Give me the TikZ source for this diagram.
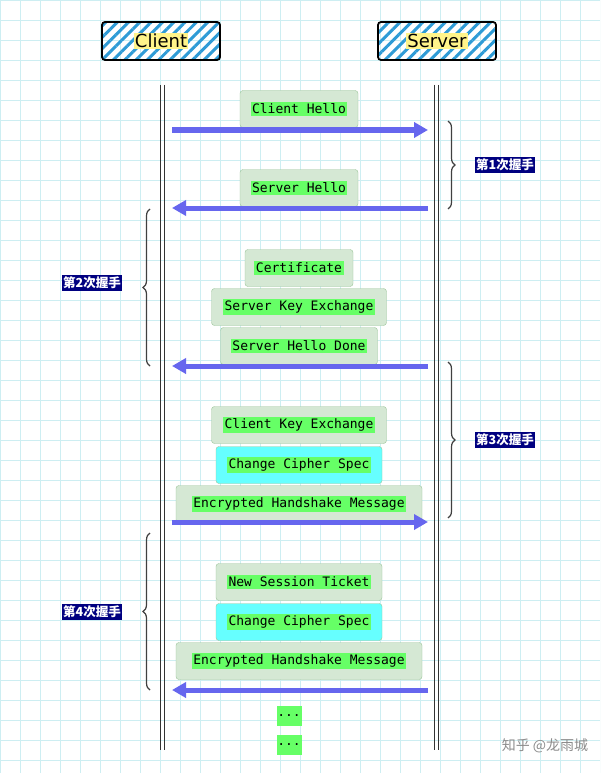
\documentclass[tikz,border=0pt]{standalone}
\usepackage{fontspec}
\setmainfont{DejaVu Sans}
\newfontfamily\cjk{Noto Sans CJK SC}
\newfontfamily\mono{DejaVu Sans Mono}
\usetikzlibrary{arrows.meta,decorations.pathreplacing,patterns,patterns.meta}
\definecolor{gridc}{HTML}{CDEEF2}
\definecolor{boxbg}{HTML}{D5E8D4}
\definecolor{boxln}{HTML}{9CC49A}
\definecolor{hl}{HTML}{66FF66}
\definecolor{cyanbg}{HTML}{66FFFF}
\definecolor{arr}{HTML}{6666EE}
\definecolor{navy}{HTML}{000080}
\definecolor{stripe}{HTML}{2E9BD6}
\definecolor{yel}{HTML}{FFF48A}
\tikzset{
 msg/.style={draw=boxln,fill=boxbg,rounded corners=3pt,minimum height=37pt,inner sep=0pt},
 cmsg/.style={msg,fill=cyanbg},
 lbl/.style={fill=hl,inner sep=1.5pt,font=\mono\fontsize{13}{15}\selectfont},
 flow/.style={draw=arr,line width=5pt,-{Triangle[length=14pt,width=15pt]}},
 handshake/.style={fill=navy,text=white,inner sep=1.5pt,font=\cjk\bfseries\fontsize{12.5}{14}\selectfont},
 br/.style={decorate,decoration={brace,amplitude=7pt},line width=1.2pt,black!75},
 actor/.style={draw=black,line width=1.8pt,rounded corners=3pt,minimum width=118pt,minimum height=38pt,pattern={Lines[angle=45,distance=8pt,line width=3pt]},pattern color=stripe},
 actortxt/.style={fill=yel,inner sep=1pt,font=\fontsize{18}{20}\selectfont},
 life/.style={draw=black!80,line width=0.8pt}
}
\begin{document}
\begin{tikzpicture}[x=1pt,y=-1pt]
\useasboundingbox (0,0) rectangle (600,773);
\clip (0,0) rectangle (600,773);
\fill[white] (0,0) rectangle (600,773);
\foreach \i in {0,20,...,600} \draw[gridc,line width=0.6pt] (\i,0)--(\i,773);
\foreach \j in {0,20,...,780} \draw[gridc,line width=0.6pt] (0,\j)--(600,\j);
% actors
\node[actor] (cl) at (161,41) {};
\node[actortxt] at (cl) {Client};
\node[actor] (sv) at (437,41) {};
\node[actortxt] at (sv) {Server};
% lifelines
\coordinate (c1) at (160,85); \coordinate (c2) at (160,750);
\coordinate (c3) at (164,85); \coordinate (c4) at (164,750);
\coordinate (s1) at (434,85); \coordinate (s2) at (434,750);
\coordinate (s3) at (438,85); \coordinate (s4) at (438,750);
\draw[life] (c1)--(c2); \draw[life] (c3)--(c4);
\draw[life] (s1)--(s2); \draw[life] (s3)--(s4);
% messages
\node[msg,minimum width=118pt] (m1) at (299,109) {}; \node[lbl] at (m1) {Client Hello};
\node[msg,minimum width=118pt] (m2) at (299,188) {}; \node[lbl] at (m2) {Server Hello};
\node[msg,minimum width=108pt] (m3) at (299,268) {}; \node[lbl] at (m3) {Certificate};
\node[msg,minimum width=175pt] (m4) at (299,307) {}; \node[lbl] at (m4) {Server Key Exchange};
\node[msg,minimum width=157pt] (m5) at (299,346) {}; \node[lbl] at (m5) {Server Hello Done};
\node[msg,minimum width=175pt] (m6) at (299,425) {}; \node[lbl] at (m6) {Client Key Exchange};
\node[cmsg,minimum width=166pt] (m7) at (299,465) {}; \node[lbl] at (m7) {Change Cipher Spec};
\node[msg,minimum width=246pt] (m8) at (299,504) {}; \node[lbl] at (m8) {Encrypted Handshake Message};
\node[msg,minimum width=166pt] (m9) at (299,582) {}; \node[lbl] at (m9) {New Session Ticket};
\node[cmsg,minimum width=166pt] (m10) at (299,622) {}; \node[lbl] at (m10) {Change Cipher Spec};
\node[msg,minimum width=246pt] (m11) at (299,661) {}; \node[lbl] at (m11) {Encrypted Handshake Message};
\node[fill=hl,minimum width=25pt,minimum height=20pt,inner sep=0pt,font=\mono\fontsize{13}{15}\selectfont] (d1) at (289,716) {...};
\node[fill=hl,minimum width=25pt,minimum height=20pt,inner sep=0pt,font=\mono\fontsize{13}{15}\selectfont] (d2) at (289,745) {...};
% arrows
\coordinate (a1s) at (172,130); \coordinate (a1e) at (428,130);
\coordinate (a2s) at (428,208); \coordinate (a2e) at (172,208);
\coordinate (a3s) at (428,366); \coordinate (a3e) at (172,366);
\coordinate (a4s) at (172,522); \coordinate (a4e) at (428,522);
\coordinate (a5s) at (428,690); \coordinate (a5e) at (172,690);
\draw[flow] (a1s)--(a1e); \draw[flow] (a2s)--(a2e); \draw[flow] (a3s)--(a3e);
\draw[flow] (a4s)--(a4e); \draw[flow] (a5s)--(a5e);
% braces
\coordinate (b1a) at (448,121); \coordinate (b1b) at (448,209);
\draw[br] (b1a)--(b1b);
\node[handshake] (t1) at (505,165) {第1次握手};
\coordinate (b2a) at (150,209); \coordinate (b2b) at (150,366);
\draw[br] (b2b)--(b2a);
\node[handshake] (t2) at (92,283) {第2次握手};
\coordinate (b3a) at (448,362); \coordinate (b3b) at (448,518);
\draw[br] (b3a)--(b3b);
\node[handshake] (t3) at (505,440) {第3次握手};
\coordinate (b4a) at (150,533); \coordinate (b4b) at (150,690);
\draw[br] (b4b)--(b4a);
\node[handshake] (t4) at (92,612) {第4次握手};
\node[text=black!45,font=\cjk\fontsize{14}{16}\selectfont] (wm) at (545,746) {知乎 @龙雨城};
\end{tikzpicture}
\end{document}
